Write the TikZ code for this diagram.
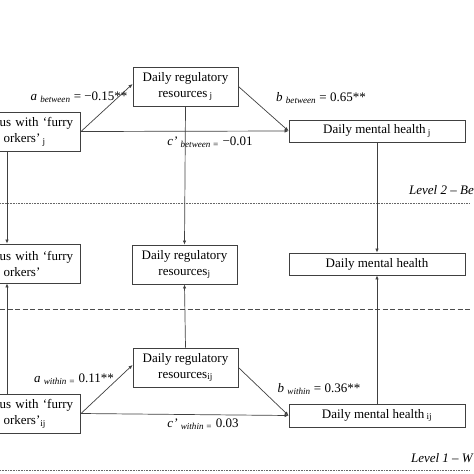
\documentclass[tikz,border=0pt]{standalone}
\usepackage{fontspec}
\setmainfont{Liberation Serif}
\usetikzlibrary{arrows.meta}

\begin{document}
\begin{tikzpicture}[x=1pt, y=-1pt, every node/.style={font=\fontsize{13}{16}\selectfont},
	>={Latex[length=4pt,width=3.5pt]},
	varbox/.style={draw=black!75, line width=0.9pt, align=center, inner sep=0pt},
	regbox/.style={varbox, minimum width=105pt, minimum height=39pt},
	mhbox/.style={varbox, minimum width=176pt, minimum height=22pt},
	petbox/.style={varbox, anchor=east, minimum height=39pt, text width=75pt, align=left, inner xsep=6pt},
	path/.style={->, draw=black!75, line width=0.7pt},
	coef/.style={inner sep=0pt}]
	\clip (0,0) rectangle (474,474);
	\coordinate (axL) at (7,0);
	% level 2 - between
	\node[petbox] (pet2) at (81,131.5) {us with ‘furry\\\hspace*{4pt}orkers’\,\textsubscript{j}};
	\node[regbox] (reg2) at (185.5,86.5) {Daily regulatory\\resources\,\textsubscript{j}};
	\node[mhbox] (mh2) at (377,131) {Daily mental health\,\textsubscript{j}};
	\draw[path] (pet2.east) -- ([yshift=2.5pt]reg2.west);
	\draw[path] (pet2.east) -- (mh2.west);
	\draw[path] (reg2.east) -- (mh2.west);
	\node[coef] (a2) at (79,97) {\textit{a} \textsubscript{\textit{between}} = −0.15**};
	\node[coef] (c2) at (210,142) {\textit{c’} \textsubscript{\textit{between =}} −0.01};
	\node[coef] (b2) at (321,98) {\textit{b} \textsubscript{\textit{between}} = 0.65**};
	\node[coef, anchor=east] (lev2) at (474,190) {\textit{Level 2 – Be}};
	\draw[black!60, line width=0.7pt, dash pattern=on 1pt off 0.6pt] (0,203) -- (470,203);
	% middle
	\node[petbox] (pet) at (81,263.5) {us with ‘furry\\\hspace*{4pt}orkers’};
	\node[regbox] (reg) at (184.5,264.5) {Daily regulatory\\resources\textsubscript{j}};
	\node[mhbox] (mh) at (377,264) {Daily mental health};
	\draw[path] (pet2.south -| axL) -- (pet.north -| axL);
	\draw[path] (reg2.south) -- (reg.north);
	\draw[path] (mh2.south) -- (mh.north);
	\draw[black!70, line width=1pt, dash pattern=on 5pt off 2.5pt] (0,309) -- (470,309);
	% level 1 - within
	\node[petbox] (pet1) at (81,413.5) {us with ‘furry\\\hspace*{4pt}orkers’\textsubscript{ij}};
	\node[regbox] (reg1) at (185.5,367.5) {Daily regulatory\\resources\textsubscript{ij}};
	\node[mhbox, minimum height=23pt] (mh1) at (377,415.5) {Daily mental health\,\textsubscript{ij}};
	\draw[path] (pet1.north -| axL) -- (pet.south -| axL);
	\draw[path] (reg1.north) -- (reg.south);
	\draw[path] (mh1.north) -- (mh.south);
	\draw[path] (pet1.east) -- ([yshift=2.5pt]reg1.west);
	\draw[path] (pet1.east) -- (mh1.west);
	\draw[path] (reg1.east) -- (mh1.west);
	\node[coef] (a1) at (74,379) {\textit{a} \textsubscript{\textit{within =}} 0.11**};
	\node[coef] (c1) at (203,424) {\textit{c’} \textsubscript{\textit{within =}} 0.03};
	\node[coef] (b1) at (319,389) {\textit{b} \textsubscript{\textit{within}} = 0.36**};
	\node[coef, anchor=east] (lev1) at (474,458) {\textit{Level 1 – W}};
	\draw[black!60, line width=0.7pt, dash pattern=on 1pt off 0.6pt] (0,470) -- (470,470);
\end{tikzpicture}
\end{document}
